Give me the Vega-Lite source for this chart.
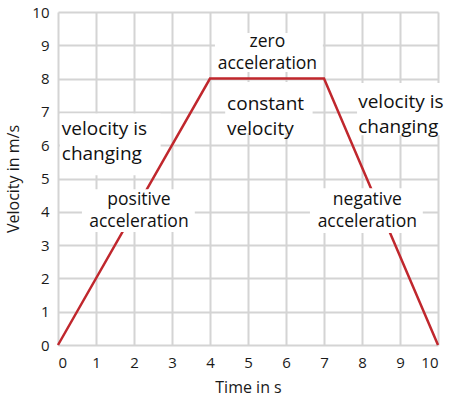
{
  "$schema": "https://vega.github.io/schema/vega-lite/v6.json",
  "width": 380,
  "height": 333,
  "autosize": {"type": "none"},
  "padding": {"left": 58, "top": 12, "right": 12, "bottom": 51},
  "background": "white",
  "config": {
    "view": {"stroke": null},
    "text": {"lineBreak": "\n"},
    "axis": {
      "grid": true,
      "gridColor": "#d4d4d4",
      "gridWidth": 2,
      "domain": false,
      "ticks": false,
      "labelFont": "Open Sans",
      "labelFontSize": 15,
      "labelColor": "#1a1a1a",
      "titleFont": "Open Sans",
      "titleFontSize": 16,
      "titleFontWeight": "normal",
      "titleColor": "#1a1a1a"
    }
  },
  "datasets": {
    "motion": [
      {"x": 0, "y": 0},
      {"x": 4, "y": 8},
      {"x": 7, "y": 8},
      {"x": 10, "y": 0}
    ],
    "boxesUnder": [
      {"x": 0.05, "xe": 2.7, "y": 5.1, "ye": 6.95},
      {"x": 4.13, "xe": 6.97, "y": 8.2, "ye": 9.37},
      {"x": 4.4, "xe": 6.7, "y": 6.37, "ye": 7.9},
      {"x": 7.87, "xe": 10.1, "y": 6.3, "ye": 7.87}
    ],
    "boxesOver": [
      {"x": 0.63, "xe": 3.6, "y": 3.39, "ye": 4.68},
      {"x": 6.63, "xe": 9.6, "y": 3.36, "ye": 4.71}
    ],
    "leftLabels": [
      {"x": 0.1, "y": 6.49, "label": "velocity is\nchanging"},
      {"x": 4.45, "y": 7.25, "label": "constant\nvelocity"},
      {"x": 7.9, "y": 7.31, "label": "velocity is\nchanging"}
    ],
    "centerLabels": [
      {"x": 2.13, "y": 4.34, "label": "positive\nacceleration"},
      {"x": 5.51, "y": 9.1, "label": "zero\nacceleration"},
      {"x": 8.14, "y": 4.34, "label": "negative\nacceleration"}
    ]
  },
  "encoding": {
    "x": {
      "field": "x",
      "type": "quantitative",
      "scale": {"domain": [0, 10], "nice": false, "zero": false},
      "axis": {"values": [0,1,2,3,4,5,6,7,8,9,10], "title": "Time in s", "labelPadding": 10, "titlePadding": 9}
    },
    "y": {
      "field": "y",
      "type": "quantitative",
      "scale": {"domain": [0, 10], "nice": false, "zero": false},
      "axis": {"values": [0,1,2,3,4,5,6,7,8,9,10], "title": "Velocity in m/s", "labelPadding": 9, "titlePadding": 10}
    }
  },
  "layer": [
    {
      "data": {"name": "boxesUnder"},
      "mark": {"type": "rect", "fill": "white"},
      "encoding": {"x2": {"field": "xe"}, "y2": {"field": "ye"}}
    },
    {
      "data": {"name": "motion"},
      "mark": {"type": "line", "color": "#c0272d", "strokeWidth": 2.5}
    },
    {
      "data": {"name": "boxesOver"},
      "mark": {"type": "rect", "fill": "white"},
      "encoding": {"x2": {"field": "xe"}, "y2": {"field": "ye"}}
    },
    {
      "data": {"name": "leftLabels"},
      "mark": {"type": "text", "align": "left", "baseline": "middle", "font": "Open Sans", "fontSize": 19, "lineHeight": 25, "color": "#111111"},
      "encoding": {"text": {"field": "label"}}
    },
    {
      "data": {"name": "centerLabels"},
      "mark": {"type": "text", "align": "center", "baseline": "middle", "font": "Open Sans", "fontSize": 17.5, "lineHeight": 22, "color": "#111111"},
      "encoding": {"text": {"field": "label"}}
    }
  ]
}
